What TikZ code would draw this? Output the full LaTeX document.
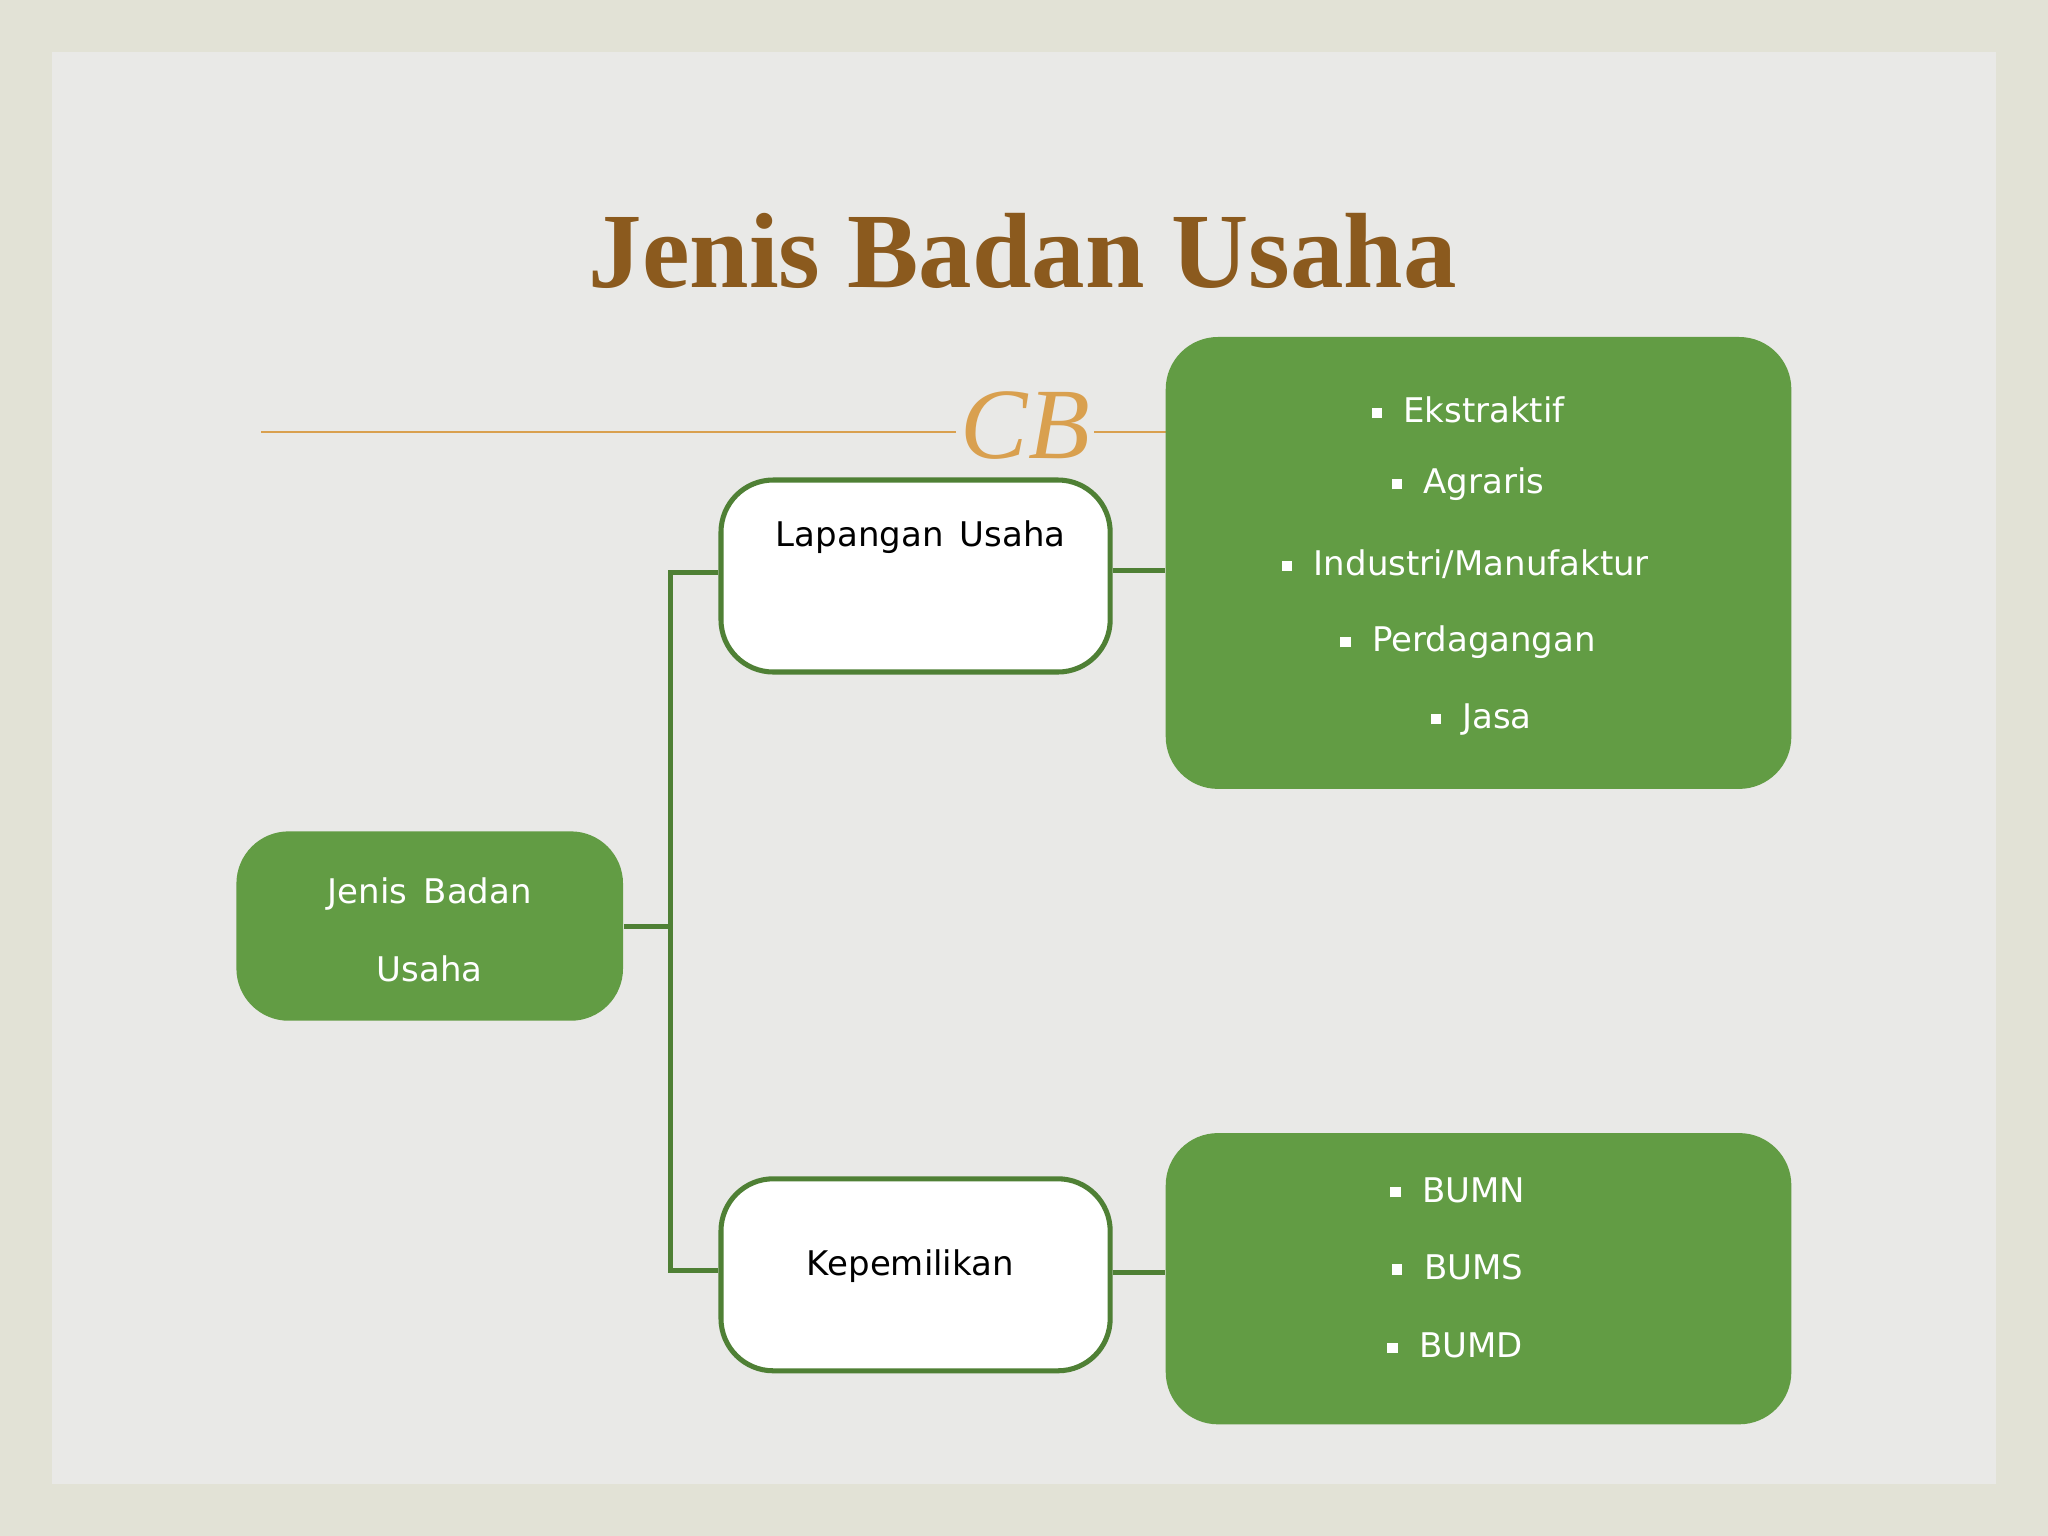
\documentclass[tikz,border=0pt]{standalone}
\usepackage{fontspec}
\setmainfont{DejaVu Sans}
\newfontfamily\titlefont{Liberation Serif}
\definecolor{gr}{HTML}{629C44}
\definecolor{bd}{HTML}{4F8035}
\definecolor{br}{HTML}{8B5A1E}
\definecolor{orn}{HTML}{D9A04F}
\definecolor{edge}{HTML}{E2E2D6}
\definecolor{bg}{HTML}{E9E9E7}
\newcommand{\sqb}{\raisebox{0.25ex}{\rule{0.55ex}{0.55ex}}\ \ }
\begin{document}
\begin{tikzpicture}[x=0.1mm,y=-0.1mm,
  gbox/.style={fill=gr,rounded corners=4mm,draw=none},
  wbox/.style={fill=white,draw=bd,line width=1.1pt,rounded corners=4mm},
  conn/.style={draw=bd,line width=1.1pt},
  txt/.style={font=\fontsize{7.4}{17}\selectfont,align=center}]
\fill[edge] (0,0) rectangle (1568,1176);
\fill[bg] (40,40) rectangle (1528,1136);
\useasboundingbox (0,0) rectangle (1568,1176);
\node (title) at (783,192) {\titlefont\bfseries\fontsize{23.3}{28}\selectfont\color{br}Jenis Badan Usaha};
\coordinate (l1) at (200,331);
\coordinate (l2) at (893,331);
\draw[orn,line width=0.5pt] (l1) -- (l2);
\node[fill=bg,inner sep=1pt] (orn) at (785,326) {\titlefont\itshape\fontsize{22}{22}\selectfont\color{orn}CB};
\node[gbox,minimum width=29.6mm,minimum height=14.5mm] (root) at (329,709) {};
\node[txt,text=white] (roott) at (329,712) {Jenis\, Badan\\[0pt]Usaha};
\node[wbox,minimum width=29.8mm,minimum height=14.7mm] (lap) at (701,441) {};
\node[txt] (lapt) at (705,411) {Lapangan\, Usaha};
\node[wbox,minimum width=29.8mm,minimum height=14.7mm] (kep) at (701,976) {};
\node[txt] (kept) at (697,969) {Kepemilikan};
\node[gbox,minimum width=47.9mm,minimum height=34.6mm] (r1) at (1132,431) {};
\node[txt,text=white] (r1a) at (1124,314) {\sqb Ekstraktif};
\node[txt,text=white] (r1b) at (1124,371) {\sqb Agraris};
\node[txt,text=white] (r1c) at (1122,432) {\sqb Industri/Manufaktur};
\node[txt,text=white] (r1d) at (1124,492) {\sqb Perdagangan};
\node[txt,text=white] (r1e) at (1134,551) {\sqb Jasa};
\node[gbox,minimum width=47.9mm,minimum height=22.3mm] (r2) at (1132,979) {};
\node[txt,text=white] (r2a) at (1116,911) {\sqb BUMN};
\node[txt,text=white] (r2b) at (1116,970) {\sqb BUMS};
\node[txt,text=white] (r2c) at (1114,1030) {\sqb BUMD};
\coordinate (j) at (513,709);
\draw[conn] (root.east) -- (j);
\draw[conn] (lap.west |- 0,438) -| (j) |- (kep.west |- 0,973);
\draw[conn] (lap.east |- 0,437) -- (r1.west |- 0,437);
\draw[conn] (kep.east |- 0,974) -- (r2.west |- 0,974);
\end{tikzpicture}
\end{document}
